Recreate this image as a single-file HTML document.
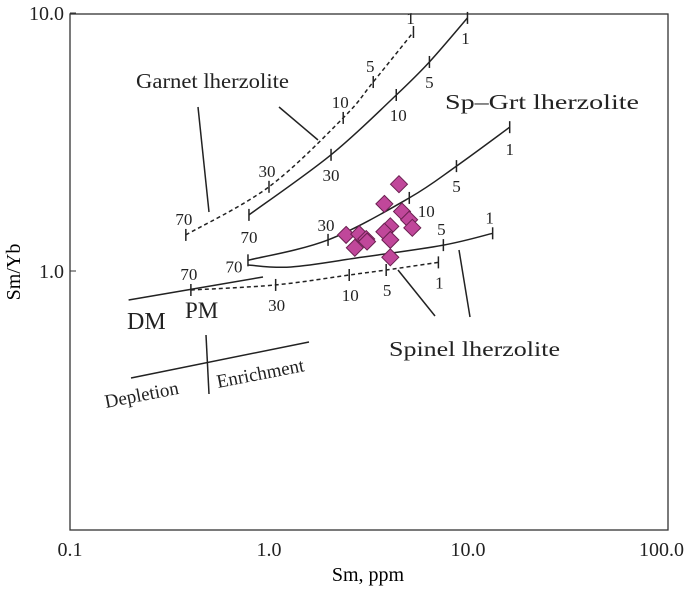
<!DOCTYPE html>
<html><head><meta charset="utf-8"><style>
body{margin:0;background:#fff}
svg{display:block;font-family:"Liberation Serif",serif}
</style></head><body>
<svg id="c" width="685" height="590" viewBox="0 0 685 590">
<rect x="70" y="14" width="598" height="516" fill="none" stroke="#333" stroke-width="1.3"/>
<g id="ticks" font-size="20" fill="#222"></g>
<text x="20" y="272" font-size="20" transform="rotate(-90 20 272)" text-anchor="middle">Sm/Yb</text>
<text x="368" y="581" font-size="20" text-anchor="middle">Sm, ppm</text>
<g id="curves" fill="none" stroke="#222" stroke-width="1.5"></g>
<g id="ann" stroke="#222" stroke-width="1.5" fill="none">
<line x1="198" y1="107" x2="209" y2="212"/>
<line x1="279" y1="107" x2="318" y2="140"/>
<line x1="398" y1="270" x2="435" y2="316"/>
<line x1="459" y1="250" x2="470" y2="317"/>
<line x1="131" y1="378" x2="309" y2="342"/>
<line x1="206" y1="335" x2="209" y2="394"/>
</g>
<g font-size="21.5" fill="#222">
<text x="136" y="88" textLength="153" lengthAdjust="spacingAndGlyphs">Garnet lherzolite</text>
<text x="445" y="109" textLength="194" lengthAdjust="spacingAndGlyphs">Sp–Grt lherzolite</text>
<text x="389" y="356" textLength="171" lengthAdjust="spacingAndGlyphs">Spinel lherzolite</text>
<text x="127" y="329" font-size="24">DM</text>
<text x="185" y="318" font-size="23">PM</text>
<text x="106" y="408" font-size="19" transform="rotate(-11 106 408)">Depletion</text>
<text x="218" y="388" font-size="19" transform="rotate(-11 218 388)">Enrichment</text>
</g>
<g id="pts"></g>
</svg>
<script>
const xTicks=[0.1,1,10,100];
const xTickLabels=["0.1","1.0","10.0","100.0"];
const yTicks=[1,10];
const yTickLabels=["1.0","10.0"];
const sampleSm=[4.50,3.80,4.66,5.06,4.07,5.25,3.80,4.07,2.44,2.84,3.08,3.11,2.70,4.07];
const sampleSmYb=[2.17,1.82,1.70,1.58,1.49,1.47,1.42,1.32,1.38,1.39,1.33,1.30,1.23,1.13];
const garnetX=[0.793,2.05,4.36,6.40,9.94];
const garnetY=[1.65,2.82,4.81,6.46,9.57];
const garnetLabels=["70","30","10","5","1"];
const garnetDX=[0.382,1.0,2.36,3.34,5.32];
const garnetDY=[1.38,2.12,3.92,5.40,8.44];
const garnetDLabels=["70","30","10","5","1"];
const spgX=[0.784,1.98,5.07,8.75,16.2];
const spgY=[1.10,1.32,1.92,2.55,3.61];
const spgLabels=["70","30","10","5","1"];
const spgLX=[0.784,1.29,2.91,7.52,13.3];
const spgLY=[1.055,1.036,1.13,1.26,1.40];
const spgLLabels=["","","","5","1"];
const spX=[0.405,1.08,2.53,3.88,7.10];
const spY=[0.844,0.883,0.965,1.009,1.08];
const spLabels=["70","30","10","5","1"];
const dmX=[0.197,0.933];
const dmY=[0.772,0.948];
const X0=70,XD=199,Y1=271,YD=258;
function sx(v){return X0+(Math.log10(v)+1)*XD;}
function sy(v){return Y1-Math.log10(v)*YD;}
const NS="http://www.w3.org/2000/svg";
function mk(t,a,p){const e=document.createElementNS(NS,t);for(const k in a)e.setAttribute(k,a[k]);p.appendChild(e);return e;}
const tk=document.getElementById('ticks');
xTicks.forEach((v,i)=>{const last=i===xTicks.length-1;
const t=mk('text',{x:last?684:sx(v),y:556,'text-anchor':last?'end':'middle'},tk);t.textContent=xTickLabels[i];

});
yTicks.forEach((v,i)=>{const t=mk('text',{x:64,y:sy(v)+7,'text-anchor':'end'},tk);t.textContent=yTickLabels[i];


const l=mk('line',{x1:70,x2:76,y1:sy(v),y2:sy(v),stroke:'#333'},tk);

});
const cg=document.getElementById('curves');
function smooth(P){let d='M'+P[0][0].toFixed(1)+' '+P[0][1].toFixed(1);
 for(let i=0;i<P.length-1;i++){const p0=P[i-1]||P[i],p1=P[i],p2=P[i+1],p3=P[i+2]||p2;
  const c1=[p1[0]+(p2[0]-p0[0])/6,p1[1]+(p2[1]-p0[1])/6],c2=[p2[0]-(p3[0]-p1[0])/6,p2[1]-(p3[1]-p1[1])/6];
  d+=` C${c1[0].toFixed(1)} ${c1[1].toFixed(1)} ${c2[0].toFixed(1)} ${c2[1].toFixed(1)} ${p2[0].toFixed(1)} ${p2[1].toFixed(1)}`;}
 return d;}
function curve(xs,ys,labs,name,dash,off){
 const P=xs.map((x,i)=>[sx(x),sy(ys[i])]);
 const p=mk('path',{d:smooth(P)},cg); if(dash)p.setAttribute('stroke-dasharray','4 3');
 
 
 xs.forEach((x,i)=>{if(!labs[i])return;const px=sx(x),py=sy(ys[i]);
  const l=mk('line',{x1:px,x2:px,y1:py-6,y2:py+6},cg);
  
  
  const o=off[i]||[0,24];
  const t=mk('text',{x:px+o[0],y:py+o[1],'text-anchor':'middle',stroke:'none',fill:'#222','font-size':17},cg);
  t.textContent=labs[i];
  
  });
}
curve(garnetX,garnetY,garnetLabels,'garnet-curve',false,[[0,28],[0,26],[2,26],[0,26],[-2,26]]);
curve(garnetDX,garnetDY,garnetDLabels,'garnet-dashed-curve',true,[[-2,-10],[-2,-10],[-3,-10],[-3,-10],[-3,-8]]);
curve(spgX,spgY,spgLabels,'sp-grt-upper-curve',false,[[-14,12],[-2,-9],[17,19],[0,26],[0,28]]);
curve(spgLX,spgLY,spgLLabels,'sp-grt-lower-curve',false,[0,0,0,[-2,-10],[-3,-10]]);
curve(spX,spY,spLabels,'spinel-curve',true,[[-2,-10],[1,26],[1,26],[1,26],[1,26]]);
curve(dmX,dmY,[],'dm-pm-line',false,[]);
const pg=document.getElementById('pts');
sampleSm.forEach((x,i)=>{const px=sx(x),py=sy(sampleSmYb[i]),r=8.5;
 const p=mk('polygon',{points:`${px},${py-r} ${px+r},${py} ${px},${py+r} ${px-r},${py}`,fill:'#c0479a',stroke:'#6a2050','stroke-width':1},pg);
 
 });
</script>
</body></html>
